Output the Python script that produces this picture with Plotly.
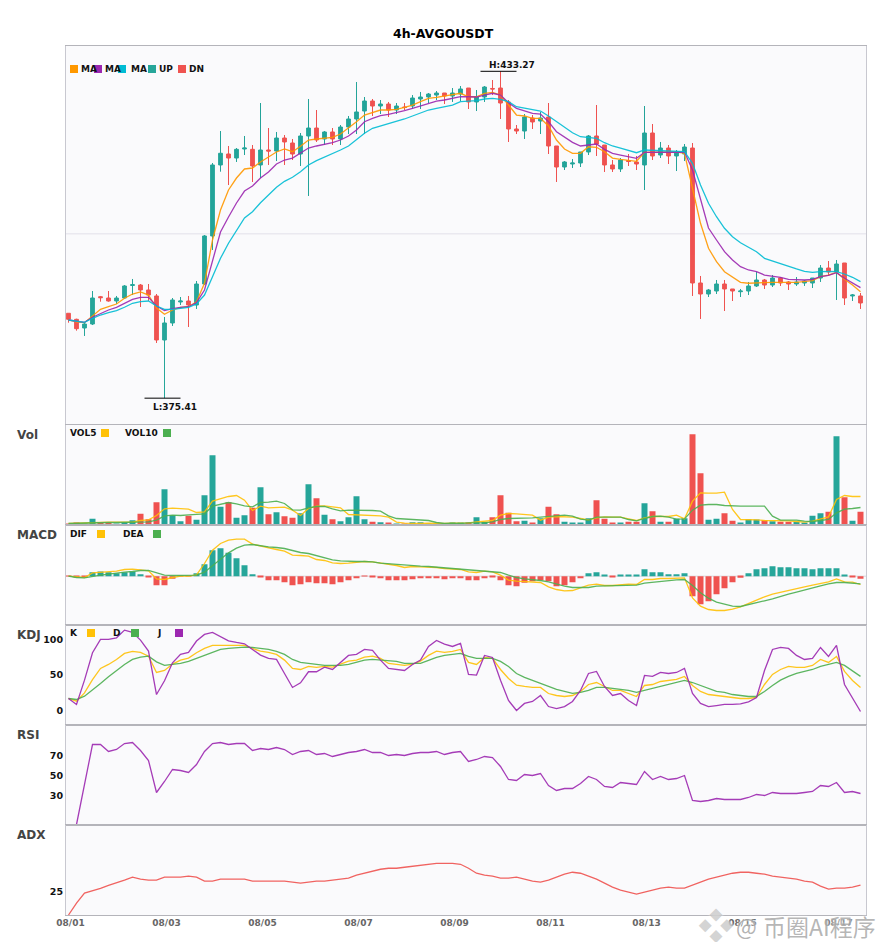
#!/usr/bin/env python3
"""4h AVGOUSDT candles with MA, Vol, MACD, KDJ, RSI and ADX panels."""

import pandas as pd
import plotly.graph_objects as go
from plotly.subplots import make_subplots

GREEN = "#26A69A"
RED = "#EF5350"
FONT = "DejaVu Sans"

times = pd.date_range("2025-08-01 00:00", periods=100, freq="4h")

open_ = [390.44, 389.37, 387.83, 388.54, 393.37, 393.14, 392.61, 393.14, 395.36, 395.44,
         394.56, 393.5, 385.71, 388.72, 392.44, 392.61, 391.9, 395.62, 404.12, 416.69,
         418.63, 417.92, 419.52, 419.46, 416.69, 419.34, 419.16, 421.46, 420.58, 418.63,
         421.82, 423.23, 421.29, 422.53, 421.29, 423.41, 424.83, 426.24, 428.01, 427.13,
         427.48, 426.42, 426.95, 427.13, 428.37, 428.72, 429.07, 429.43, 428.9, 429.25,
         430.31, 427.84, 428.72, 430.23, 430.31, 427.84, 423.06, 422.7, 425.0, 424.47,
         425.18, 420.05, 416.33, 416.86, 417.04, 418.99, 421.82, 420.22, 416.69, 415.98,
         417.48, 417.22, 416.69, 422.35, 418.45, 419.69, 418.28, 418.63, 419.69, 395.8,
         393.85, 394.38, 395.62, 394.74, 394.26, 394.38, 395.27, 396.33, 395.44, 396.68,
         395.98, 395.62, 395.8, 395.8, 396.68, 398.45, 397.75, 399.34, 393.5, 393.5]
close = [389.37, 387.71, 388.54, 393.14, 393.2, 392.61, 393.14, 395.27, 395.5, 394.56,
         393.67, 385.71, 388.72, 392.79, 392.61, 391.9, 395.62, 404.12, 416.69, 418.76,
         417.92, 419.46, 419.69, 416.51, 419.34, 419.16, 421.46, 420.76, 418.63, 421.82,
         423.23, 421.11, 422.53, 421.29, 423.41, 424.83, 426.07, 428.01, 427.13, 427.48,
         426.42, 427.13, 426.86, 428.54, 428.72, 429.25, 429.43, 428.9, 429.43, 430.14,
         427.84, 428.72, 430.49, 430.14, 427.66, 423.06, 422.7, 425.18, 424.3, 425.0,
         420.05, 416.33, 417.22, 417.04, 418.99, 421.82, 420.4, 416.69, 415.98, 417.57,
         417.3, 416.86, 422.35, 418.28, 419.69, 418.28, 418.81, 419.87, 395.8, 393.85,
         394.56, 395.62, 394.74, 394.38, 394.38, 395.27, 396.33, 395.44, 396.68, 395.8,
         395.62, 395.98, 396.15, 396.68, 398.45, 397.75, 399.16, 393.14, 393.67, 392.26]
high = [390.44, 389.48, 388.89, 394.38, 393.5, 394.38, 393.5, 395.44, 396.51, 395.62,
        395.62, 393.85, 389.78, 393.14, 393.32, 393.5, 396.15, 404.29, 417.04, 422.7,
        420.05, 419.69, 421.82, 420.22, 427.66, 423.23, 422.53, 421.99, 421.29, 422.35,
        428.37, 426.42, 422.7, 423.23, 423.76, 425.36, 431.38, 428.72, 428.37, 428.19,
        427.84, 427.66, 427.66, 429.07, 429.61, 429.43, 429.78, 429.43, 430.31, 430.67,
        430.31, 429.96, 430.67, 431.73, 433.27, 428.19, 423.76, 425.71, 425.53, 426.07,
        427.66, 420.05, 417.39, 417.75, 418.99, 421.99, 427.3, 420.22, 417.57, 417.92,
        418.63, 418.28, 427.13, 423.94, 420.76, 420.22, 419.34, 420.4, 420.58, 397.04,
        394.74, 396.33, 396.33, 394.74, 394.74, 395.98, 397.75, 396.51, 397.21, 396.86,
        396.15, 396.86, 396.33, 396.68, 398.98, 399.69, 399.87, 399.34, 393.85, 394.03]
low = [388.77, 387.36, 386.42, 388.36, 392.49, 392.49, 392.08, 392.97, 393.67, 391.55,
       392.61, 385.18, 375.41, 388.19, 391.9, 388.01, 391.2, 395.44, 401.64, 415.5,
       413.14, 417.22, 418.45, 413.68, 414.38, 416.69, 417.39, 416.69, 417.57, 416.51,
       411.2, 420.76, 420.22, 420.22, 420.22, 422.17, 422.17, 422.17, 425.36, 425.71,
       425.18, 425.71, 426.42, 426.6, 426.6, 427.66, 428.19, 427.48, 427.84, 428.01,
       426.6, 426.24, 427.84, 429.07, 424.83, 420.76, 422.17, 421.29, 423.06, 422.17,
       418.63, 413.68, 415.8, 416.15, 416.33, 418.45, 418.28, 415.45, 415.45, 415.45,
       416.51, 415.8, 412.26, 417.57, 417.92, 416.86, 415.62, 417.39, 393.5, 389.43,
       393.32, 393.85, 390.84, 392.61, 393.32, 393.67, 395.09, 394.74, 395.09, 395.27,
       394.56, 395.27, 395.27, 394.91, 395.98, 397.04, 392.79, 391.9, 392.61, 391.2]

ma_fast = [389.25, 388.9, 388.77, 389.96, 391.14, 391.6, 392.08, 393.09, 393.85, 394.21,
           393.67, 391.37, 390.26, 391.02, 391.5, 391.6, 392.49, 395.75, 403.41, 408.72,
           412.26, 414.38, 415.98, 416.15, 417.22, 418.1, 418.99, 419.52, 419.04, 419.99,
           421.11, 421.29, 421.46, 421.59, 422.17, 423.18, 424.35, 425.53, 426.01, 426.42,
           426.42, 426.54, 426.9, 427.3, 427.89, 428.49, 428.67, 428.9, 429.25, 429.38,
           428.77, 428.77, 429.38, 429.55, 429.07, 427.3, 425.53, 425.36, 424.95, 424.95,
           423.59, 421.11, 419.52, 418.76, 418.76, 419.92, 419.82, 419.04, 417.92, 417.69,
           417.52, 417.34, 418.93, 418.93, 418.93, 418.99, 418.99, 418.76, 412.84, 406.37,
           401.94, 399.57, 397.8, 396.81, 395.92, 395.75, 395.75, 395.85, 395.92, 395.98,
           395.92, 395.92, 396.03, 396.21, 396.91, 397.21, 397.69, 396.45, 395.44, 394.26]
ma_mid = [389.25, 389.02, 388.84, 389.73, 390.44, 391.02, 391.5, 392.21, 392.91, 393.27,
          393.27, 391.73, 390.9, 391.25, 391.5, 391.6, 392.31, 394.56, 399.87, 404.83,
          407.48, 409.96, 412.08, 412.97, 414.38, 415.45, 416.86, 417.57, 417.92, 418.81,
          419.69, 420.05, 420.35, 420.63, 421.11, 421.82, 422.88, 424.35, 424.95, 425.41,
          425.66, 425.94, 426.3, 426.72, 427.13, 427.61, 428.01, 428.19, 428.49, 428.77,
          428.77, 428.72, 429.07, 429.38, 429.07, 427.71, 426.72, 426.24, 425.84, 425.71,
          424.35, 422.58, 421.59, 420.7, 420.05, 420.22, 420.4, 419.46, 418.76, 418.45,
          418.22, 417.87, 418.93, 418.93, 418.93, 418.99, 418.99, 418.99, 415.8, 410.49,
          405.53, 403.41, 401.34, 399.87, 398.68, 398.1, 397.8, 397.21, 397.04, 396.81,
          396.45, 396.33, 396.33, 396.45, 396.91, 397.16, 397.62, 396.63, 395.85, 394.97]
ma_slow = [389.25, 389.02, 388.84, 389.55, 390.13, 390.54, 390.9, 391.5, 392.21, 392.49,
           392.61, 391.73, 391.14, 391.14, 391.37, 391.5, 392.08, 393.67, 396.91, 400.17,
           402.83, 405.18, 407.3, 408.42, 410.01, 411.37, 412.74, 413.8, 414.51, 415.5,
           416.69, 417.45, 418.05, 418.63, 419.34, 420.05, 421.11, 422.3, 423.18, 423.59,
           423.94, 424.47, 424.83, 425.36, 425.84, 426.42, 426.72, 427.0, 427.3, 427.89,
           427.96, 428.07, 428.37, 428.49, 428.31, 427.89, 427.0, 426.72, 426.42, 426.24,
           425.36, 424.35, 423.36, 422.4, 421.69, 421.59, 421.41, 420.63, 420.05, 419.69,
           419.34, 418.86, 419.34, 419.29, 419.16, 419.11, 419.04, 419.04, 416.99, 413.14,
           409.91, 407.53, 405.48, 403.99, 402.93, 402.12, 401.34, 400.17, 399.69, 399.16,
           398.81, 398.28, 397.87, 397.69, 397.8, 397.87, 397.8, 397.39, 396.81, 396.03]

# panel has no scale in the source, volumes are relative
volume = [3, 6, 3, 17, 5, 5, 2, 7, 13, 32,
          16, 67, 106, 28, 10, 26, 14, 88, 208, 53,
          67, 20, 28, 50, 112, 31, 37, 25, 20, 34,
          121, 79, 29, 16, 10, 22, 85, 16, 8, 7,
          5, 1, 2, 7, 7, 2, 2, 3, 6, 4,
          6, 22, 8, 22, 88, 35, 10, 11, 5, 19,
          53, 31, 8, 5, 5, 19, 73, 17, 5, 5,
          8, 8, 64, 40, 8, 8, 17, 19, 271, 154,
          14, 17, 34, 11, 5, 16, 15, 13, 10, 8,
          8, 8, 5, 26, 34, 38, 265, 82, 11, 38]
vol5 = [3, 4, 4, 7, 7, 7, 7, 6, 7, 12,
        14, 27, 47, 49, 47, 46, 36, 38, 70, 76,
        84, 87, 73, 42, 55, 50, 52, 52, 43, 27,
        48, 55, 56, 54, 50, 30, 29, 28, 28, 26,
        22, 7, 4, 3, 3, 4, 3, 3, 4, 4,
        5, 8, 9, 12, 28, 33, 32, 30, 28, 13,
        22, 24, 23, 22, 18, 14, 20, 23, 22, 22,
        17, 12, 20, 24, 24, 24, 28, 17, 70, 95,
        94, 94, 97, 45, 15, 15, 14, 12, 12, 11,
        11, 9, 7, 10, 16, 23, 75, 87, 84, 84]
vol10 = [3, 4, 4, 5, 6, 6, 6, 6, 7, 6,
         8, 13, 26, 28, 27, 29, 30, 32, 55, 61,
         66, 62, 56, 53, 66, 67, 70, 63, 44, 43,
         50, 54, 54, 47, 41, 43, 43, 43, 42, 40,
         26, 18, 17, 15, 15, 12, 6, 3, 4, 3,
         5, 4, 5, 8, 15, 18, 18, 20, 20, 22,
         24, 27, 28, 25, 16, 13, 22, 22, 22, 22,
         15, 11, 18, 24, 25, 22, 16, 17, 43, 58,
         60, 60, 57, 55, 55, 55, 55, 55, 25, 13,
         13, 13, 10, 9, 12, 15, 35, 46, 48, 51]

macd_hist = [-1, -3, -3, 12, 14, 12, 9, 12, 13, 6,
             -2, -27, -27, -8, -1, -1, 9, 36, 78, 84,
             70, 54, 33, 6, -2, -12, -12, -18, -27, -24,
             -18, -21, -21, -24, -18, -12, -6, -1, -3, -6,
             -12, -12, -12, -9, -6, -6, -6, -9, -6, -6,
             -12, -12, -6, -3, -12, -27, -30, -20, -15, -12,
             -15, -30, -27, -18, -6, 9, 12, 3, -3, 3,
             3, 3, 21, 12, 12, 6, 6, 9, -60, -84,
             -75, -54, -36, -18, -5, 9, 21, 24, 30, 27,
             27, 24, 24, 21, 24, 24, 24, 3, -2, -8]
dif = [0, -2, -4, 10, 12, 13, 15, 20, 21, 19,
       16, -8, -10, -4, 0, 0, 4, 38, 78, 98,
       108, 111, 111, 96, 90, 85, 80, 75, 63, 62,
       60, 50, 47, 40, 38, 39, 41, 44, 43, 40,
       35, 32, 26, 29, 28, 28, 26, 23, 21, 20,
       13, 11, 15, 13, 3, -12, -15, -16, -16, -19,
       -32, -40, -44, -43, -35, -27, -24, -28, -28, -25,
       -24, -25, -10, -10, -7, -7, -7, -5, -65, -90,
       -100, -103, -103, -99, -92, -82, -70, -62, -54, -48,
       -43, -37, -32, -27, -22, -17, -8, -17, -18, -25]
dea = [0, -4, -5, 0, 3, 6, 10, 12, 14, 17,
       17, 9, 3, 2, 2, 2, 3, 12, 31, 50,
       70, 84, 93, 95, 91, 88, 86, 83, 77, 71,
       68, 61, 55, 49, 46, 44, 44, 44, 43, 39,
       37, 35, 32, 31, 30, 29, 27, 25, 23, 22,
       20, 18, 17, 15, 11, 3, -4, -8, -10, -13,
       -17, -24, -30, -34, -34, -34, -30, -29, -30, -28,
       -28, -27, -21, -18, -15, -13, -11, -10, -28, -50,
       -66, -78, -85, -90, -91, -86, -79, -74, -68, -60,
       -54, -48, -41, -35, -29, -23, -19, -19, -20, -23]

k_line = [16.9, 13.1, 24.8, 43.5, 59.1, 64.8, 71.8, 80.3, 83.1, 81.7,
          76.5, 53.5, 56.3, 65.3, 70.9, 73.7, 81.2, 87.3, 91.5, 91.5,
          91.5, 91.5, 91.5, 87.3, 83.6, 81.7, 78.9, 70.9, 59.2, 57.7,
          62, 60.6, 62, 61, 64.8, 69.5, 70.9, 75.1, 76.5, 73.2,
          66.2, 64.8, 63.4, 65.3, 69.5, 77.5, 83.6, 81.7, 83.1, 85.9,
          67.6, 64.8, 74.6, 73.2, 57.7, 45.1, 35.7, 33.8, 32.4, 32.4,
          23.9, 21.1, 19.7, 21.1, 26.8, 36.6, 39.4, 33.8, 28.2, 28.2,
          23.9, 19.7, 35.2, 36.6, 40.8, 42.3, 43.7, 47.9, 35.2, 26.8,
          22.5, 21.1, 19.7, 18.3, 16.9, 16.9, 18.3, 36.6, 50.7, 57.7,
          62, 60.6, 60.6, 63.4, 71.8, 67.6, 76.1, 55, 42.3, 32.4]
d_line = [16.9, 15.5, 20.2, 28.6, 38, 47.4, 55.9, 64.8, 71.8, 75.1,
          76.5, 68.5, 63.4, 64.3, 66.2, 69, 73.2, 77.5, 81.7, 85.9,
          87.3, 88.7, 89.2, 88.7, 87.3, 85.9, 83.1, 78.9, 71.8, 67.6,
          66.2, 64.8, 63.4, 63.4, 63.4, 64.8, 67.6, 70.9, 71.8, 70.9,
          70.4, 69, 66.2, 66.2, 66.2, 70.4, 74.6, 77.5, 79.3, 80.3,
          76.1, 73.2, 73.2, 73.2, 69, 62, 52.1, 46.5, 42.3, 38,
          33.8, 29.6, 26.8, 24, 25.4, 28.2, 32.4, 32.4, 31, 29.6,
          28.2, 25.4, 28.2, 31, 33.8, 36.6, 39.4, 42.3, 39.4, 35.2,
          31, 26.8, 25.4, 22.5, 21.1, 19.7, 19.7, 26.8, 35.2, 42.7,
          47.9, 52.1, 55, 57.7, 62, 64.8, 67.6, 63.4, 56.3, 48]
j_line = [16.9, 8.5, 42.7, 81.2, 100, 100, 102.3, 113.1, 109.9, 99.1,
          83.6, 22.5, 41.8, 67.1, 78.9, 81.7, 97.7, 107, 109.9, 103.8,
          98.1, 95.8, 93.9, 85.9, 77.9, 73.2, 71.8, 52.1, 32.4, 39,
          54.5, 54.5, 61, 57.7, 67.1, 77.5, 78.9, 85.9, 84.5, 70.9,
          59.2, 57.7, 56.3, 64.8, 70.9, 90.1, 98.6, 93.4, 90.1, 94.4,
          50.7, 49.8, 77.5, 74.6, 42.7, 14.1, 0, 9.9, 12.7, 21.1,
          5.6, 2.8, 5.6, 12.7, 28.2, 52.1, 54.9, 33.8, 21.1, 23.9,
          14.1, 7, 49.3, 47.9, 53.5, 52.1, 53.5, 59.2, 23.9, 9.9,
          5.6, 7, 8.5, 8.5, 9.4, 12.2, 18.3, 56.3, 85.9, 88.7,
          87.3, 77.5, 71.8, 73.2, 88.7, 76.1, 91.5, 36.6, 16.9, -1.4]

rsi = [None, 1, 40.3, 81, 81, 74, 76, 82, 83, 75,
       65, 33, 44, 56, 55, 53, 61, 74, 82, 83,
       81, 82, 82, 75, 77, 76, 78, 76, 71, 74,
       75, 71, 72, 69, 71, 73, 74, 76, 73, 73,
       70, 71, 70, 72, 73, 73, 74, 71, 73, 74,
       64, 66, 69, 68, 59, 46, 45, 51, 50, 52,
       40, 35, 37, 37, 42, 49, 46, 39, 38, 43,
       42, 41, 54, 46, 49, 46, 47, 50, 25, 24,
       25, 27, 26, 26, 26, 28, 31, 30, 33, 32,
       32, 32, 33, 34, 40, 39, 43, 33, 34, 32]

adx = [2, 14, 24, 26, 28.7, 31.7, 34, 37, 40, 38,
       37, 37, 40, 40, 40, 41, 40, 36, 36, 38,
       38, 38, 38, 36, 36, 36, 36, 36, 35, 34,
       35, 36, 36, 37, 38, 39, 42, 44, 46, 48,
       49, 49, 50, 51, 52, 53, 54, 54, 54, 53,
       49, 44, 42, 41, 39, 39, 40, 38, 36, 35,
       37, 40, 43, 45, 44, 41, 38, 34, 30, 27,
       25, 23, 25, 27, 29, 30, 29, 29, 32, 35,
       38, 40, 42, 44, 45, 45, 44, 43, 41, 40,
       39, 38, 36, 35, 31, 28, 29, 29, 30, 32]

panel_names = ["Vol", "MACD", "KDJ", "RSI", "ADX"]


def px(x):
    # page pixel to paper fraction, plot area runs 66..866 on the page
    return (x - 66) / 800


def py(y):
    # plot area runs 46..915 on the page
    return (915 - y) / 869


fig = make_subplots(
    rows=6, cols=1,
    shared_xaxes=True,
    vertical_spacing=0,
    row_heights=[378.5, 100, 100, 100, 100, 90.5],
)


def add_line(values, color, row, width=1.3):
    fig.add_trace(go.Scatter(
        x=times, y=values, mode="lines",
        line=dict(color=color, width=width),
        opacity=0.9,
        showlegend=False, hoverinfo="skip",
    ), row=row, col=1)


# Price panel
fig.add_trace(go.Candlestick(
    x=times, open=open_, high=high, low=low, close=close,
    increasing=dict(line=dict(color=GREEN, width=1), fillcolor=GREEN),
    decreasing=dict(line=dict(color=RED, width=1), fillcolor=RED),
    showlegend=False,
), row=1, col=1)
add_line(ma_fast, "#FF9800", 1)
add_line(ma_mid, "#9C27B0", 1)
add_line(ma_slow, "#00BCD4", 1)

# Vol panel
bar_colors = [GREEN if c >= o else RED for o, c in zip(open_, close)]
fig.add_trace(go.Bar(x=times, y=volume, marker=dict(color=bar_colors, line_width=0),
                     showlegend=False), row=2, col=1)
add_line(vol5, "#FFC107", 2)
add_line(vol10, "#4CAF50", 2)

# MACD panel
hist_colors = [GREEN if v >= 0 else RED for v in macd_hist]
fig.add_trace(go.Bar(x=times, y=macd_hist, marker=dict(color=hist_colors, line_width=0),
                     showlegend=False), row=3, col=1)
add_line(dif, "#FFC107", 3)
add_line(dea, "#4CAF50", 3)

# KDJ / RSI / ADX panels with their guide levels
for row, levels in [
    (3, [(0, "#d8d8dc")]),
    (4, [(100, "#a5d8d3"), (50, "#d0d0d4"), (0, "#f8b4b2")]),
    (5, [(70, "#a5d8d3"), (50, "#d0d0d4"), (30, "#f8b4b2")]),
    (6, [(25, "#dda8e4")]),
    (1, [(404.5, "#e2e0ea")]),
]:
    for level, color in levels:
        fig.add_hline(y=level, line=dict(color=color, width=1), layer="below", row=row, col=1)

add_line(k_line, "#FFC107", 4)
add_line(d_line, "#4CAF50", 4)
add_line(j_line, "#9C27B0", 4)
add_line(rsi, "#9C27B0", 5)
add_line(adx, "#EF5350", 6)

# High / low markers
for t, level, text, shift, x0, x1 in [
    (times[54], 433.27, "H:433.27", 6, -2.5, 2),
    (times[12], 375.41, "L:375.41", -9, -2.5, 2),
]:
    fig.add_shape(type="line", x0=t + pd.Timedelta(hours=4 * x0), x1=t + pd.Timedelta(hours=4 * x1),
                  y0=level, y1=level, line=dict(color="black", width=1), row=1, col=1)
    fig.add_annotation(x=t, y=level, text=f"<b>{text}</b>", showarrow=False, xanchor="left",
                       xshift=-14, yshift=shift, font=dict(family=FONT, size=9, color="#111"),
                       row=1, col=1)

# Legend rows are hand placed: squares and labels overlap in the source
legends = [
    (69, [(70, "#FF9800", 81, "MA"), (94, "#9C27B0", 105, "MA"), (118, "#00BCD4", 131, "MA"),
          (148, GREEN, 159, "UP"), (178, RED, 189, "DN")]),
    (433, [(101, "#FFC107", 70, "VOL5"), (163, "#4CAF50", 125, "VOL10")]),
    (534, [(97, "#FFC107", 70, "DIF"), (153, "#4CAF50", 123, "DEA")]),
    (633, [(87, "#FFC107", 70, "K"), (131, "#4CAF50", 113, "D"), (175, "#9C27B0", 157, "J")]),
]
for y, items in legends:
    for square_x, color, text_x, text in items:
        fig.add_annotation(xref="paper", yref="paper", x=px(text_x), y=py(y), text=f"<b>{text}</b>",
                           showarrow=False, xanchor="left", yanchor="middle", xshift=-2,
                           font=dict(family=FONT, size=9, color="#111"))
        fig.add_shape(type="rect", xref="paper", yref="paper", x0=px(square_x), x1=px(square_x + 8),
                      y0=py(y + 4), y1=py(y - 4), fillcolor=color, line_width=0, layer="above")

for name, y in zip(panel_names, [435, 535, 635, 735, 835]):
    fig.add_annotation(xref="paper", yref="paper", x=px(17), y=py(y), text=f"<b>{name}</b>",
                       showarrow=False, xanchor="left", yanchor="middle", xshift=-2,
                       font=dict(family=FONT, size=12, color="#444"))

fig.add_annotation(xref="paper", yref="paper", x=px(443), y=py(34), text="<b>4h-AVGOUSDT</b>",
                   showarrow=False, xanchor="center", yanchor="middle",
                   font=dict(family=FONT, size=12.5, color="black"))

# Watermark sits over the last tick labels like in the source
halo = "0 0 3px white, 0 0 3px white"
watermark = [
    (716, 924, "❖", 36, "rgba(175,175,175,0.55)"),
    (746, 925, "@", 22, "rgba(160,160,160,0.8)"),
    (819, 926, "币圈AI程序", 23, "rgba(150,150,150,0.7)"),
]
for x, y, text, size, color in watermark:
    fig.add_annotation(xref="paper", yref="paper", x=px(x), y=py(y), text=text,
                       showarrow=False, xanchor="center", yanchor="middle",
                       font=dict(family="Noto Sans CJK SC", size=size, color=color, shadow=halo))

fig.update_layout(
    width=877, height=934,
    margin=dict(l=58, r=19, t=38, b=27),
    paper_bgcolor="white",
    plot_bgcolor="#FAFAFC",
    bargap=0.25,
    boxgap=0.33,
    showlegend=False,
    hovermode=False,
    xaxis_rangeslider_visible=False,
)
fig.update_xaxes(
    range=["2025-07-31 22:45", "2025-08-17 14:45"],
    showgrid=False,
    zeroline=False,
    showline=True,
    linecolor="#b4b4ba",
    linewidth=1,
    mirror=True,
    tick0="2025-08-01",
    dtick=172800000,
    tickformat="%m/%d",
    ticks="",
    ticklabelshift=2,
    ticklabelstandoff=-1,
    tickfont=dict(family=FONT, size=9, color="#666", weight=700),
)
fig.update_xaxes(rangeslider_visible=False)
fig.update_yaxes(
    showgrid=False,
    zeroline=False,
    showline=True,
    linecolor="#c8c8d0",
    linewidth=1,
    mirror=True,
    ticks="",
    showticklabels=False,
)
fig.update_yaxes(range=[370.75, 437.75], row=1, col=1)
fig.update_yaxes(range=[0, 300], row=2, col=1)
fig.update_yaxes(range=[-145, 155], row=3, col=1)
level_font = dict(family=FONT, size=9.5, color="#111", weight=700)
fig.update_yaxes(range=[-19.7, 121], showticklabels=True, tickvals=[0, 50, 100],
                 tickfont=level_font, row=4, col=1)
fig.update_yaxes(range=[1, 101], showticklabels=True, tickvals=[30, 50, 70],
                 tickfont=level_font, row=5, col=1)
fig.update_yaxes(range=[2, 93], showticklabels=True, tickvals=[25],
                 tickfont=level_font, row=6, col=1)

fig.write_html("out.html")
